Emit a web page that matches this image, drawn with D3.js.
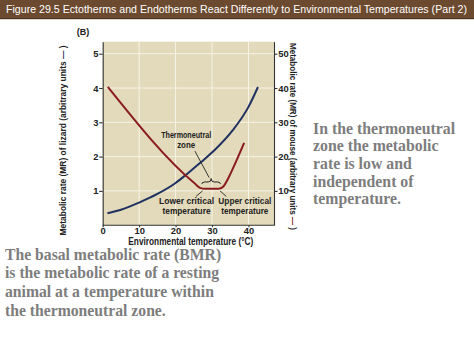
<!DOCTYPE html>
<html><head><meta charset="utf-8">
<script src="https://cdn.jsdelivr.net/npm/d3@7"></script>
<style>
html,body{margin:0;padding:0;background:#fff;}
svg{display:block;}
</style></head>
<body>
<svg id="c" width="474" height="355"></svg>
<script>
// ---- data ----
const titleText = "Figure 29.5  Ectotherms and Endotherms React Differently to Environmental Temperatures (Part 2)";
const xTicks = [0, 10, 20, 30, 40];
const yLeftTicks = [1, 2, 3, 4, 5];
const yRightTicks = [10, 20, 30, 40, 50];
// lizard (ectotherm) metabolic rate, left axis units
const lizardTemp = [1.3, 5, 10, 15, 20, 23.3, 27, 31, 35.7, 40, 42.6];
const lizardMR   = [0.35, 0.45, 0.66, 0.91, 1.23, 1.51, 1.84, 2.22, 2.77, 3.45, 4.03];
// mouse (endotherm) metabolic rate, right axis units
const mouseTemp = [1.4, 25.2, 26.7, 28.2, 31.8, 33.1, 34.6, 36.6, 38.8];
const mouseMR   = [40.3, 12.2, 10.9, 10.6, 10.6, 11.3, 14.0, 18.6, 24.0];
const sideNote = ["In the thermoneutral", "zone the metabolic", "rate is low and", "independent of", "temperature."];
const bottomNote = ["The basal metabolic rate (BMR)", "is the metabolic rate of a resting", "animal at a temperature within", "the thermoneutral zone."];

const svg = d3.select("#c");
const W = 474;
const navy = "#1f3160", darkRed = "#8a1c20", tan = "#e2dabb";
const sans = "'Liberation Sans', Arial, sans-serif";
const serif = "'Liberation Serif', 'Times New Roman', serif";

// title bar
svg.append("rect").attr("x",0).attr("y",0).attr("width",W).attr("height",19).attr("fill","#6c4a2f");
svg.append("rect").attr("x",0).attr("y",18).attr("width",W).attr("height",1.2).attr("fill","#4a3020");
svg.append("text").attr("x",6).attr("y",13.3).attr("fill","#fff")
  .attr("font-family",sans).attr("font-size","10.6px")
  .attr("textLength",461).attr("lengthAdjust","spacingAndGlyphs")
  .text(titleText);

// scales
const x = d3.scaleLinear().domain([0,47]).range([102.7,274]);
const yL = d3.scaleLinear().domain([0,5.35]).range([225.2,41.7]);
const yR = d3.scaleLinear().domain([0,53.5]).range([225.2,41.7]);

// plot background
svg.append("rect").attr("x",x(0)).attr("y",yL(5.35)).attr("width",x(47)-x(0)).attr("height",yL(0)-yL(5.35)).attr("fill",tan);

// grid
const g = svg.append("g");
g.selectAll(".vg").data(xTicks.slice(1)).join("line")
  .attr("x1",d=>x(d)).attr("x2",d=>x(d)).attr("y1",yL(5.35)).attr("y2",yL(0))
  .attr("stroke","#f7f3e6").attr("stroke-width",1);
g.selectAll(".hg").data(yLeftTicks).join("line")
  .attr("x1",x(0)).attr("x2",x(47)).attr("y1",d=>yL(d)).attr("y2",d=>yL(d))
  .attr("stroke","#f7f3e6").attr("stroke-width",1);

// axes
function styleAxis(sel){
  sel.attr("font-family",sans).attr("font-size",9.4);
  sel.selectAll("path").attr("stroke","#333").attr("stroke-width",1.1);
  sel.selectAll("line").attr("stroke","#333").attr("stroke-width",1.1);
  sel.selectAll("text").attr("font-weight","bold").attr("fill","#222");
}
const fmt = d3.format("d");
const ax = svg.append("g").attr("transform",`translate(0,${yL(0)})`)
  .call(d3.axisBottom(x).tickValues(xTicks).tickFormat(fmt).tickSize(2).tickSizeOuter(0).tickPadding(0));
styleAxis(ax);
const al = svg.append("g").attr("transform",`translate(${x(0)},0)`)
  .call(d3.axisLeft(yL).tickValues(yLeftTicks).tickFormat(fmt).tickSize(3.5).tickSizeOuter(0).tickPadding(0.8));
styleAxis(al);
const ar = svg.append("g").attr("transform",`translate(${x(47)},0)`)
  .call(d3.axisRight(yR).tickValues(yRightTicks).tickFormat(fmt).tickSize(3.5).tickSizeOuter(0).tickPadding(0.8));
styleAxis(ar);
ax.select(".domain").attr("d",`M${x(0)},0H${x(47)}`);

// lines
const lizard = lizardTemp.map((t,i)=>[t,lizardMR[i]]);
const mouse = mouseTemp.map((t,i)=>[t,mouseMR[i]]);
svg.append("path").datum(lizard)
  .attr("d", d3.line().x(d=>x(d[0])).y(d=>yL(d[1])).curve(d3.curveMonotoneX))
  .attr("fill","none").attr("stroke",navy).attr("stroke-width",2);
svg.append("path").datum(mouse)
  .attr("d", d3.line().x(d=>x(d[0])).y(d=>yR(d[1])).curve(d3.curveMonotoneX))
  .attr("fill","none").attr("stroke",darkRed).attr("stroke-width",2);

// annotations
const ann = svg.append("g").attr("font-family",sans).attr("font-weight","bold").attr("font-size","9.6px").attr("fill","#222").attr("text-anchor","middle");
function annText(tx, ty, s, w){
  ann.append("text").attr("x",x(tx)).attr("y",yL(ty)).text(s)
    .attr("textLength",w).attr("lengthAdjust","spacingAndGlyphs");
}
annText(22.9, 2.54, "Thermoneutral", 50);
annText(22.9, 2.255, "zone", 18);
annText(23.0, 0.625, "Lower critical", 55);
annText(23.0, 0.34, "temperature", 48);
annText(39.0, 0.625, "Upper critical", 53);
annText(39.0, 0.34, "temperature", 47);

// brace over thermoneutral zone
const bl = x(27.2), br = x(32.3), bm = (bl+br)/2, bb = yL(1.2), bt = yL(1.36), bh = yL(1.26);
svg.append("path")
  .attr("d",`M${bl},${bb} Q${bl},${bh} ${bl+3},${bh} L${bm-3},${bh} Q${bm},${bh} ${bm},${bt} Q${bm},${bh} ${bm+3},${bh} L${br-3},${bh} Q${br},${bh} ${br},${bb}`)
  .attr("fill","none").attr("stroke","#222").attr("stroke-width",1);
// pointer lines
const ptr = svg.append("g").attr("stroke","#222").attr("stroke-width",0.9);
ptr.append("line").attr("x1",x(25.3)).attr("y1",yL(2.16)).attr("x2",x(29.2)).attr("y2",yL(1.39));
ptr.append("line").attr("x1",x(25.6)).attr("y1",yL(0.84)).attr("x2",x(27.4)).attr("y2",yL(1.0));
ptr.append("line").attr("x1",x(33.9)).attr("y1",yL(0.84)).attr("x2",x(32.2)).attr("y2",yL(1.0));

// panel label
svg.append("text").attr("x",83).attr("y",35).attr("font-family",sans).attr("font-weight","bold").attr("font-size","9px").attr("fill","#222").attr("text-anchor","middle").text("(B)");

// axis titles
svg.append("text").attr("x",190.8).attr("y",245).attr("font-family",sans).attr("font-weight","bold")
  .attr("font-size","10px").attr("fill","#222").attr("text-anchor","middle")
  .attr("textLength",125).attr("lengthAdjust","spacingAndGlyphs")
  .text("Environmental temperature (°C)");

const lt = svg.append("text").attr("transform",`translate(65.5,${(yL(0)+yL(5.35))/2+7}) rotate(-90)`)
  .attr("font-family",sans).attr("font-weight","bold").attr("font-size","9.2px").attr("fill","#222").attr("text-anchor","middle")
  .attr("textLength",190).attr("lengthAdjust","spacingAndGlyphs");
lt.append("tspan").text("Metabolic rate (MR) of lizard (arbitrary units ");
lt.append("tspan").attr("fill",navy).text("—");
lt.append("tspan").text(" )");

const rt = svg.append("text").attr("transform",`translate(290,${(yL(0)+yL(5.35))/2+3}) rotate(90)`)
  .attr("font-family",sans).attr("font-weight","bold").attr("font-size","9.2px").attr("fill","#222").attr("text-anchor","middle")
  .attr("textLength",187).attr("lengthAdjust","spacingAndGlyphs");
rt.append("tspan").text("Metabolic rate (MR) of mouse (arbitrary units ");
rt.append("tspan").attr("fill",darkRed).text("—");
rt.append("tspan").text(" )");

// notes
const sn = svg.append("g").attr("font-family",serif).attr("font-weight","bold").attr("font-size","15.8px").attr("fill","#7d7d7d");
sn.selectAll("text").data(sideNote).join("text").attr("x",313).attr("y",(d,i)=>133.5+i*17.7).text(d=>d);
const bn = svg.append("g").attr("font-family",serif).attr("font-weight","bold").attr("font-size","15.7px").attr("fill","#7d7d7d");
bn.selectAll("text").data(bottomNote).join("text").attr("x",5).attr("y",(d,i)=>259.5+i*18.7).text(d=>d);
</script>
</body></html>
